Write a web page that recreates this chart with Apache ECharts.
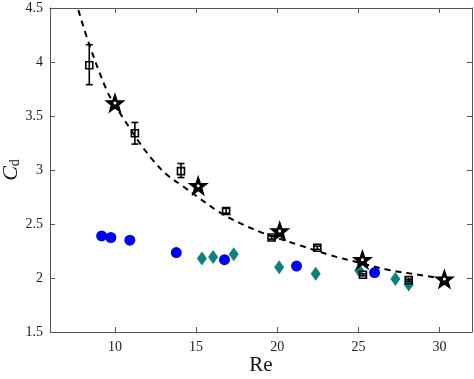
<!DOCTYPE html>
<html><head><meta charset="utf-8">
<script src="https://cdn.jsdelivr.net/npm/echarts@6/dist/echarts.min.js"></script>
<style>html,body{margin:0;padding:0;background:#fff}#c{width:474px;height:379px}</style>
</head><body><div id="c"></div>
<script>
// Experimental squares with error bars: [Re, Cd, low, high]
const squareRe   = [8.42, 11.23, 14.07, 16.85, 19.65, 22.47, 25.28, 28.1];
const squareCd   = [3.97, 3.34, 2.99, 2.62, 2.375, 2.28, 2.03, 1.98];
const squareLow  = [3.79, 3.24, 2.93, 2.60, 2.36, 2.265, 2.02, 1.97];
const squareHigh = [4.16, 3.44, 3.06, 2.645, 2.39, 2.295, 2.04, 1.99];
// Stars
const starRe = [10.0, 15.13, 20.15, 25.25, 30.3];
const starCd = [3.62, 2.855, 2.435, 2.17, 1.99];
// Blue circles
const circleRe = [9.18, 9.75, 10.92, 13.78, 16.75, 21.19, 26.0];
const circleCd = [2.39, 2.375, 2.35, 2.235, 2.17, 2.11, 2.05];
// Teal diamonds
const diamondRe = [15.36, 16.05, 17.32, 20.12, 22.37, 25.05, 27.28, 28.1];
const diamondCd = [2.18, 2.195, 2.22, 2.10, 2.04, 2.07, 1.99, 1.94];
// Dashed curve
const curveRe = [7.75, 8.47, 9.49, 10.0, 10.6, 11.53, 12.35, 13.17, 14.19, 15.1, 16.44, 17.67, 18.9, 20.12, 21.35, 23.19, 25.23, 26.87, 28.71, 30.35];
const curveCd = [4.48, 4.14, 3.74, 3.60, 3.46, 3.25, 3.09, 2.96, 2.85, 2.75, 2.61, 2.51, 2.43, 2.365, 2.305, 2.215, 2.135, 2.075, 2.03, 1.99];
// Axes
const xTicks = [10, 15, 20, 25, 30];
const yTicks = [1.5, 2, 2.5, 3, 3.5, 4, 4.5];
const yTickLabels = ['1.5', '2', '2.5', '3', '3.5', '4', '4.5'];

const zip = (a, b) => a.map((v, i) => [v, b[i]]);
const font = 'Liberation Serif, Times New Roman, serif';
const axisCol = '#555';

const chart = echarts.init(document.getElementById('c'));
const starPath = 'path://M0,-10 L2.35,-3.24 L9.51,-3.09 L3.8,1.24 L5.88,8.09 L0,4 L-5.88,8.09 L-3.8,1.24 L-9.51,-3.09 L-2.35,-3.24 Z';

const xBase = {
  type: 'value', min: 6, max: 32,
  axisLine: { show: true, onZero: false, lineStyle: { color: axisCol, width: 1 } },
  axisTick: { show: true, inside: true, length: 5, customValues: xTicks, lineStyle: { color: axisCol } },
  splitLine: { show: false }
};
const yBase = {
  type: 'value', min: 1.5, max: 4.5, interval: 0.5,
  axisLine: { show: true, onZero: false, lineStyle: { color: axisCol, width: 1 } },
  axisTick: { show: true, inside: true, length: 5, customValues: yTicks, lineStyle: { color: axisCol } },
  splitLine: { show: false }
};

chart.setOption({
  animation: false,
  grid: { left: 50, right: 2, top: 8, bottom: 47, outerBoundsMode: 'none', containLabel: false },
  xAxis: [Object.assign({}, xBase, {
    axisLabel: { fontFamily: font, fontSize: 14, color: '#222', margin: 8, customValues: xTicks,
      formatter: v => String(v) },
    name: 'Re', nameLocation: 'middle', nameGap: 23, nameMoveOverlap: false,
    nameTextStyle: { fontFamily: font, fontSize: 21, color: '#111', verticalAlign: 'top' }
  }), Object.assign({}, xBase, { position: 'top', axisLabel: { show: false } })],
  yAxis: [Object.assign({}, yBase, {
    axisLabel: { fontFamily: font, fontSize: 14, color: '#222', margin: 7, customValues: yTicks,
      formatter: v => yTickLabels[yTicks.indexOf(v)] || '' },
    name: '{c|C}{d|d}', nameLocation: 'middle', nameGap: 28, nameRotate: 90, nameMoveOverlap: false,
    nameTextStyle: { rich: {
      c: { fontFamily: font, fontSize: 22, fontStyle: 'italic', color: '#111' },
      d: { fontFamily: font, fontSize: 14, color: '#111', verticalAlign: 'bottom', padding: [8, 0, 0, 0] }
    } }
  }), Object.assign({}, yBase, { position: 'right', axisLabel: { show: false } })],
  series: [
    { type: 'scatter', data: zip(circleRe, circleCd), symbol: 'circle', symbolSize: 11,
      itemStyle: { color: '#0000f5', opacity: 1 }, z: 2 },
    { type: 'scatter', data: zip(diamondRe, diamondCd), symbol: 'diamond', symbolSize: [10, 14],
      itemStyle: { color: '#0d8080', opacity: 1 }, z: 3 },
    { type: 'line', data: zip(curveRe, curveCd), smooth: 0.4, showSymbol: false, symbol: 'none',
      lineStyle: { color: '#000', width: 2, type: [6, 5] }, z: 4 },
    { type: 'custom', z: 5,
      data: squareRe.map((x, i) => [x, squareCd[i], squareLow[i], squareHigh[i]]),
      renderItem: (params, api) => {
        const p = api.coord([api.value(0), api.value(1)]);
        const lo = api.coord([api.value(0), api.value(2)]);
        const hi = api.coord([api.value(0), api.value(3)]);
        const cap = 3.5, s = 3.5;
        const st = { stroke: '#000', lineWidth: 1.6, fill: null };
        return { type: 'group', children: [
          { type: 'line', shape: { x1: p[0], y1: lo[1], x2: p[0], y2: hi[1] }, style: st },
          { type: 'line', shape: { x1: p[0] - cap, y1: lo[1], x2: p[0] + cap, y2: lo[1] }, style: st },
          { type: 'line', shape: { x1: p[0] - cap, y1: hi[1], x2: p[0] + cap, y2: hi[1] }, style: st },
          { type: 'rect', shape: { x: p[0] - s, y: p[1] - s, width: 2 * s, height: 2 * s },
            style: { stroke: '#000', lineWidth: 1.6, fill: 'rgba(255,255,255,0)' } }
        ] };
      }
    },
    { type: 'scatter', data: zip(starRe, starCd), symbol: starPath, symbolSize: 18,
      itemStyle: { color: '#000', borderColor: '#000', borderWidth: 1.2, opacity: 1 }, z: 6 },
    { type: 'scatter', data: zip(starRe, starCd), symbol: 'circle', symbolSize: 3,
      itemStyle: { color: '#fff', opacity: 1 }, z: 7, silent: true }
  ]
});
</script></body></html>
